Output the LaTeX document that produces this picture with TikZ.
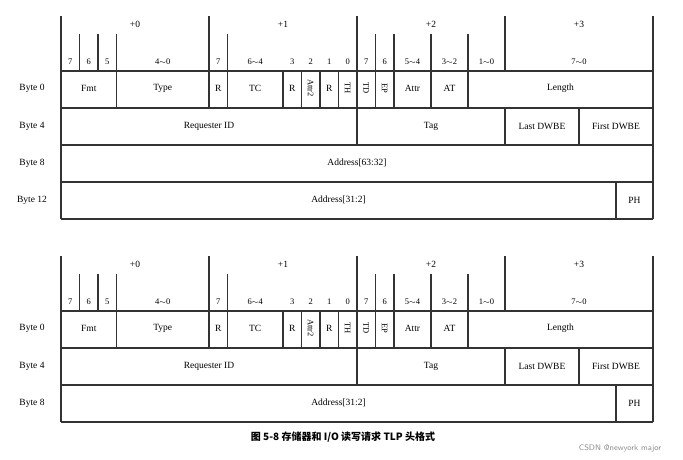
\documentclass[tikz,border=0pt]{standalone}
\usepackage{fontspec}
\setmainfont{Liberation Serif}
\newfontfamily\cjk{Noto Sans CJK SC}
\newcommand{\tl}{$\sim$}
\begin{document}
\begin{tikzpicture}[x=1pt,y=-1pt,
  ln/.style={line width=1.2pt,draw=black!80},
  lbl/.style={font=\fontsize{9.5}{10}\selectfont,inner sep=0pt},
  bit/.style={font=\fontsize{8.5}{9}\selectfont,inner sep=0pt},
  rot/.style={font=\fontsize{8.5}{9}\selectfont,inner sep=0pt,rotate=-90}]
\fill[white] (0,0) rectangle (683,460);
\foreach \o/\last in {0/1,240/0}{
\begin{scope}[yshift=-\o]
\foreach \x in {61,209,357,505,653} \draw[ln] (\x,16) -- (\x,71);
\foreach \x in {79.5,98,116.5,227.5,375.5,394,431,468} \draw[ln] (\x,34) -- (\x,71);
\node[lbl] (p0\o) at (135,24) {+0};
\node[lbl] (p1\o) at (283,24) {+1};
\node[lbl] (p2\o) at (431,24) {+2};
\node[lbl] (p3\o) at (579,24) {+3};
\foreach \x/\t [count=\i] in {70.25/7,88.75/6,107.25/5,162.75/4\tl0,218.25/7,255.25/6\tl4,292.25/3,310.75/2,329.25/1,347.75/0,366.25/7,384.75/6,412.5/5\tl4,449.5/3\tl2,486.5/1\tl0,579/7\tl0}
  \node[bit] (b\i\o) at (\x,62) {\t};
\foreach \y in {71,108,145,182} \draw[ln] (61,\y) -- (653,\y);
\draw[ln] (61,71) -- (61,{\last==1 ? 219 : 182});
\draw[ln] (653,71) -- (653,{\last==1 ? 219 : 182});
\foreach \x in {116.5,209,227.5,283,301.5,320,338.5,357,375.5,394,431,468} \draw[ln] (\x,71) -- (\x,108);
\foreach \x in {357,505,579} \draw[ln] (\x,108) -- (\x,145);
\node[lbl] (r0\o) at (32,88) {Byte 0};
\node[lbl] (r4\o) at (32,126) {Byte 4};
\node[lbl] (r8\o) at (32,163) {Byte 8};
\node[lbl] (fmt\o) at (88.75,88) {Fmt};
\node[lbl] (type\o) at (162.75,88) {Type};
\node[lbl] (ra\o) at (218.25,88) {R};
\node[lbl] (tc\o) at (255.25,88) {TC};
\node[lbl] (rb\o) at (292.25,88) {R};
\node[rot] (at2\o) at (310.75,88) {Attr2};
\node[lbl] (rc\o) at (329.25,88) {R};
\node[rot] (th\o) at (347.75,88) {TH};
\node[rot] (td\o) at (366.25,88) {TD};
\node[rot] (ep\o) at (384.75,88) {EP};
\node[lbl] (attr\o) at (412.5,88) {Attr};
\node[lbl] (at\o) at (449.5,88) {AT};
\node[lbl] (len\o) at (560.5,88) {Length};
\node[lbl] (rid\o) at (209,126) {Requester ID};
\node[lbl] (tag\o) at (431,126) {Tag};
\node[lbl] (ldw\o) at (542,126) {Last DWBE};
\node[lbl] (fdw\o) at (616,126) {First DWBE};
\end{scope}}
\draw[ln] (61,219) -- (653,219);
\draw[ln] (616,182) -- (616,219);
\node[lbl] (a1) at (357,163) {Address[63:32]};
\node[lbl] (r12) at (32,200) {Byte 12};
\node[lbl] (a2) at (338.5,200) {Address[31:2]};
\node[lbl] (ph1) at (634.5,200) {PH};
\draw[ln] (616,385) -- (616,422);
\draw[ln] (61,422) -- (653,422);
\node[lbl] (a3) at (338.5,403) {Address[31:2]};
\node[lbl] (ph2) at (634.5,403) {PH};
\node[font=\cjk\bfseries\fontsize{10}{12}\selectfont,inner sep=0pt] (cap) at (343,437) {图 5-8 存储器和 I/O 读写请求 TLP 头格式};
\node[font=\fontsize{8}{9}\selectfont\sffamily,text=black!45,inner sep=0pt] (wm) at (620,448) {CSDN @newyork major};
\end{tikzpicture}
\end{document}
